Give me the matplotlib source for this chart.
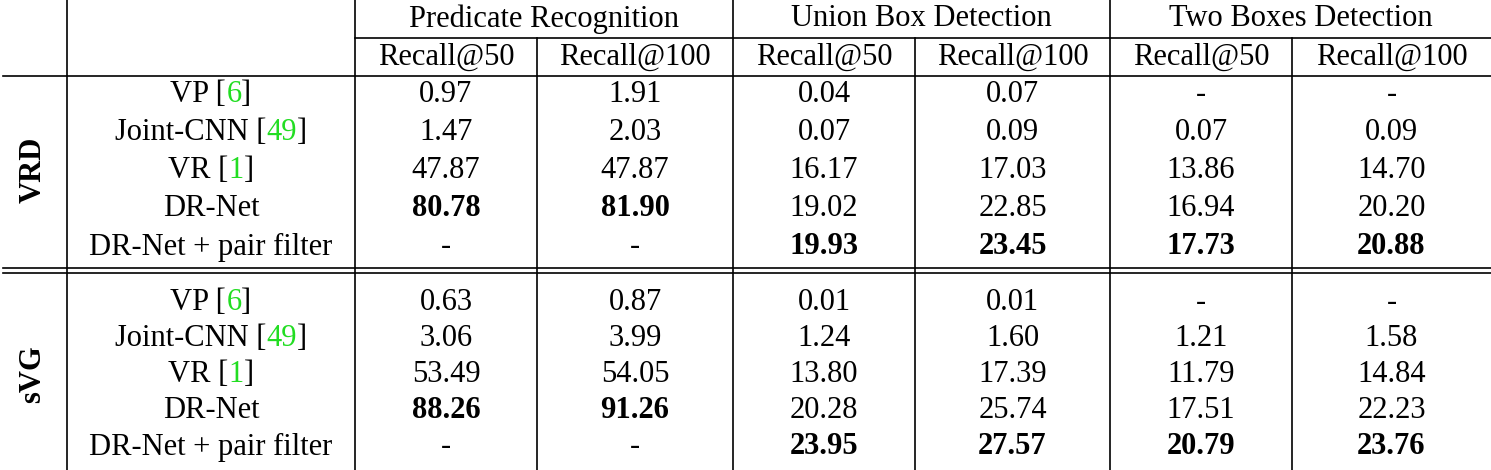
import matplotlib.pyplot as plt

plt.rcParams["font.family"] = ["Liberation Serif", "DejaVu Serif"]

groups = ["Predicate Recognition", "Union Box Detection", "Two Boxes Detection"]
subheads = ["Recall@50", "Recall@100"] * 3
datasets = ["VRD", "sVG"]
methods = [("VP [", "6", "]"), ("Joint-CNN [", "49", "]"), ("VR [", "1", "]"),
           ("DR-Net", "", ""), ("DR-Net + pair filter", "", "")]
vrd = [
    ["0.97", "1.91", "0.04", "0.07", "-", "-"],
    ["1.47", "2.03", "0.07", "0.09", "0.07", "0.09"],
    ["47.87", "47.87", "16.17", "17.03", "13.86", "14.70"],
    ["80.78", "81.90", "19.02", "22.85", "16.94", "20.20"],
    ["-", "-", "19.93", "23.45", "17.73", "20.88"],
]
svg = [
    ["0.63", "0.87", "0.01", "0.01", "-", "-"],
    ["3.06", "3.99", "1.24", "1.60", "1.21", "1.58"],
    ["53.49", "54.05", "13.80", "17.39", "11.79", "14.84"],
    ["88.26", "91.26", "20.28", "25.74", "17.51", "22.23"],
    ["-", "-", "23.95", "27.57", "20.79", "23.76"],
]
# cells shown in bold: (row, col)
bold_cells = {(3, 0), (3, 1), (4, 2), (4, 3), (4, 4), (4, 5)}

W, H = 1491, 470
FS = 22
GREEN = "#22dd22"

fig = plt.figure(figsize=(W / 100, H / 100), dpi=100)
ax = fig.add_axes([0, 0, 1, 1])
ax.set_xlim(0, W)
ax.set_ylim(H, 0)
ax.axis("off")

vx = [67, 355, 733, 1110]
subx = [537, 915, 1292]
lw = 1.2
for x in vx:
    ax.plot([x, x], [0, H], color="black", lw=lw)
for x in subx:
    ax.plot([x, x], [38, H], color="black", lw=lw)
ax.plot([vx[1], W], [38, 38], color="black", lw=lw)
ax.plot([3, W], [76, 76], color="black", lw=lw)
ax.plot([3, W], [268, 268], color="black", lw=lw)
ax.plot([3, W], [273, 273], color="black", lw=lw)

group_cx = [(vx[1] + vx[2]) / 2, (vx[2] + vx[3]) / 2, (vx[3] + W) / 2]
for cx, g in zip(group_cx, groups):
    ax.text(cx, 19, g, ha="center", va="center", fontsize=FS)

bounds = [vx[1], subx[0], vx[2], subx[1], vx[3], subx[2], W]
col_cx = [(bounds[i] + bounds[i + 1]) / 2 for i in range(6)]
for cx, s in zip(col_cx, subheads):
    ax.text(cx, 57, s, ha="center", va="center", fontsize=FS)

row_y = [[94, 132, 170, 208, 247], [302, 338, 374, 410, 447]]
method_cx = (vx[0] + vx[1]) / 2

fig.canvas.draw()
renderer = fig.canvas.get_renderer()
inv = ax.transData.inverted()


def text_width(t):
    bb = t.get_window_extent(renderer)
    p0 = inv.transform((bb.x0, bb.y0))
    p1 = inv.transform((bb.x1, bb.y0))
    return p1[0] - p0[0]


for d, (name, table) in enumerate(zip(datasets, [vrd, svg])):
    ys = row_y[d]
    ax.text(33, ys[2], name, ha="center", va="center", fontsize=FS,
            fontweight="bold", rotation=90)
    for r, (pre, cite, post) in enumerate(methods):
        y = ys[r]
        parts = [(pre, "black"), (cite, GREEN), (post, "black")]
        objs = [ax.text(0, y, p, ha="left", va="center", fontsize=FS, color=c)
                for p, c in parts if p]
        fig.canvas.draw()
        widths = [text_width(o) for o in objs]
        x = method_cx - sum(widths) / 2
        for o, w in zip(objs, widths):
            o.set_x(x)
            x += w
        for c, val in enumerate(table[r]):
            ax.text(col_cx[c], y, val, ha="center", va="center", fontsize=FS,
                    fontweight="bold" if (r, c) in bold_cells else "normal")

fig.savefig("out.png", dpi=100)
